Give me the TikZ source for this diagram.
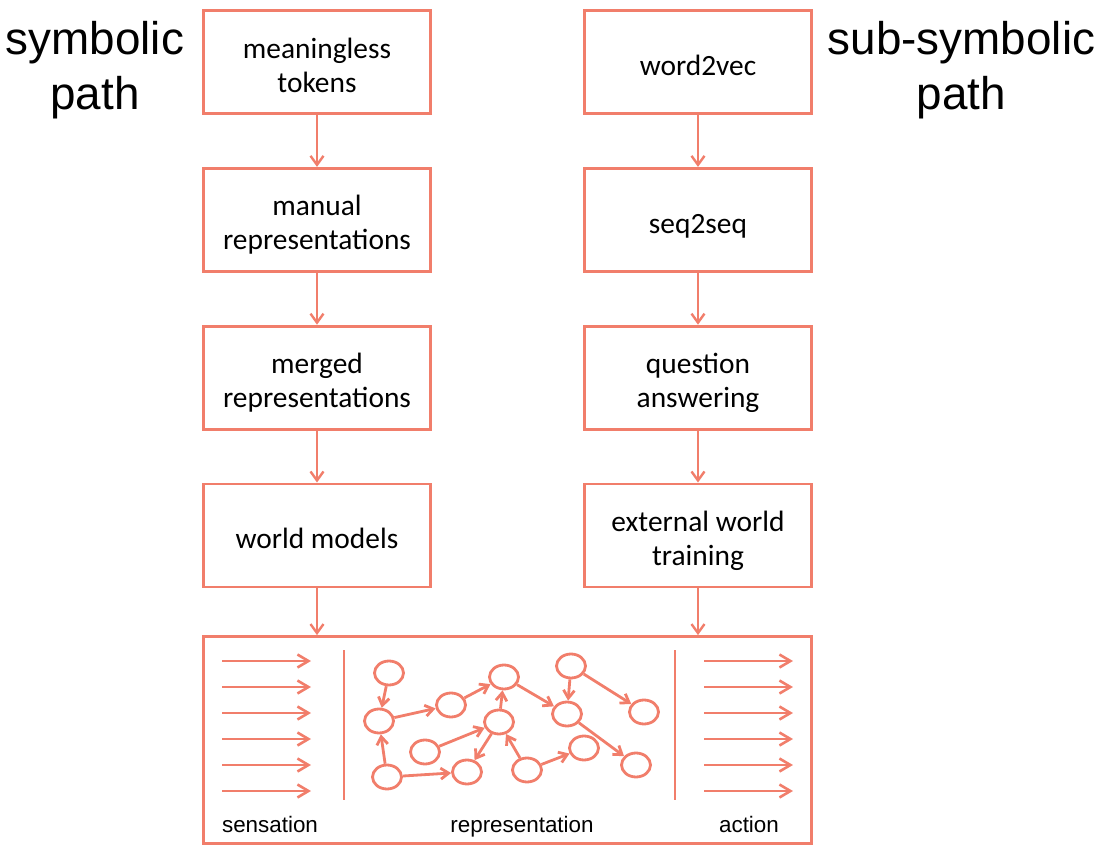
\documentclass[tikz,border=0pt]{standalone}
\usepackage{fontspec}
\setmainfont{Carlito}
\newfontfamily\labelfont{Liberation Sans}
\usetikzlibrary{positioning}
\usetikzlibrary{arrows.meta}
\usetikzlibrary{shapes.geometric}
\definecolor{salmon}{RGB}{241,126,107}

\begin{document}
\begin{tikzpicture}
		[
			x = 0.5pt, y = -0.5pt,
			stage/.style = {rectangle, draw = salmon, line width = 1.4pt, minimum width = 113.6pt, minimum height = 51.5pt, align = center, font = \fontsize{14.7}{17}\selectfont, text height = 13.5pt, text depth = 0pt},
			stagetwo/.style = {stage, text height = 30pt, text depth = 0pt},
			track/.style = {draw = salmon, line width = 1.2pt, -{Straight Barb[length = 4.5pt, width = 6.5pt]}},
			panel/.style = {rectangle, draw = salmon, line width = 1.4pt, minimum width = 304pt, minimum height = 103.5pt},
			neuron/.style = {ellipse, draw = salmon, line width = 1.4pt, minimum width = 14.5pt, minimum height = 12pt, inner sep = 0pt},
			link/.style = {draw = salmon, line width = 1.4pt, -{Straight Barb[length = 4pt, width = 5.5pt]}},
			signal/.style = {draw = salmon, line width = 1.3pt, -{Straight Barb[length = 5.5pt, width = 6.5pt]}},
			divider/.style = {draw = salmon, line width = 1.4pt},
			side/.style = {align = center, font = \labelfont\fontsize{22.9}{27.5}\selectfont},
			part/.style = {anchor = base, font = \labelfont\fontsize{11.2}{13}\selectfont},
		]
			\useasboundingbox (0,0) rectangle (1100,847);
			%
			\node (tokens) [stagetwo] at (317,62) {meaningless\\tokens};
			\node (manual) [stagetwo, below = 26pt of tokens] {manual\\representations};
			\node (merged) [stagetwo, below = 26pt of manual] {merged\\representations};
			\node (world) [stage, below = 26pt of merged] {world models};
			%
			\node (wordvec) [stage] at (698,62) {word2vec};
			\node (seqseq) [stage, below = 26pt of wordvec] {seq2seq};
			\node (answer) [stagetwo, below = 26pt of seqseq] {question\\answering};
			\node (external) [stagetwo, below = 26pt of answer] {external world\\training};
			%
			\node (panel) [panel] at (507.5,740) {};
			%
			\draw [track] (tokens) -- (manual);
			\draw [track] (manual) -- (merged);
			\draw [track] (merged) -- (world);
			\draw [track] (world) -- (world.south |- panel.north);
			\draw [track] (wordvec) -- (seqseq);
			\draw [track] (seqseq) -- (answer);
			\draw [track] (answer) -- (external);
			\draw [track] (external) -- (external.south |- panel.north);
			%
			\node (symbolic) [side] at (95,70) {symbolic\\path};
			\node (subsymbolic) [side] at (961.5,70) {sub-symbolic\\path};
			%
			\foreach \k in {0,...,5}
			{
				\draw [signal] (222,661+26*\k) -- ++(89,0);
				\draw [signal] (704,661+26*\k) -- ++(89,0);
			}
			\draw [divider] (344,650) -- (344,800);
			\draw [divider] (675,650) -- (675,800);
			%
			\node (sensation) [part] at (270,832) {sensation};
			\node (representation) [part] at (522,832) {representation};
			\node (action) [part] at (749,832) {action};
			%
			\node (n1) [neuron] at (389,673) {};
			\node (n2) [neuron] at (379,721) {};
			\node (n3) [neuron] at (387,777) {};
			\node (n4) [neuron] at (451,705) {};
			\node (n5) [neuron] at (425,752) {};
			\node (n6) [neuron] at (467,772) {};
			\node (n7) [neuron] at (499,722) {};
			\node (n8) [neuron] at (504,677) {};
			\node (n9) [neuron] at (527,770) {};
			\node (n10) [neuron] at (571,666) {};
			\node (n11) [neuron] at (567,714) {};
			\node (n12) [neuron] at (584,748) {};
			\node (n13) [neuron] at (644,712) {};
			\node (n14) [neuron] at (636,765) {};
			%
			\draw [link] (n1) -- (n2);
			\draw [link] (n3) -- (n2);
			\draw [link] (n2) -- (n4);
			\draw [link] (n3) -- (n6);
			\draw [link] (n4) -- (n8);
			\draw [link] (n5) -- (n7);
			\draw [link] (n7) -- (n8);
			\draw [link] (n7) -- (n6);
			\draw [link] (n9) -- (n7);
			\draw [link] (n9) -- (n12);
			\draw [link] (n8) -- (n11);
			\draw [link] (n10) -- (n11);
			\draw [link] (n10) -- (n13);
			\draw [link] (n11) -- (n14);
			%
		\end{tikzpicture}
\end{document}
